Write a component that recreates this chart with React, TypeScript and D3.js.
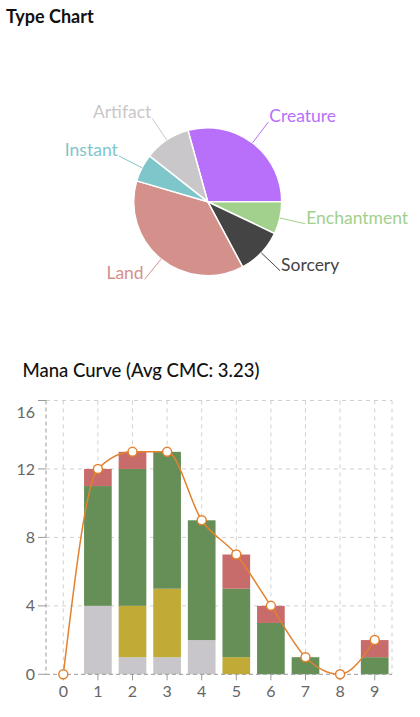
import React from "react";
import * as d3 from "d3";

const typeNames = ["Creature", "Enchantment", "Sorcery", "Land", "Instant", "Artifact"];
const typeCounts = [29, 7, 10, 37, 6, 10];
const typeColors = ["#b86ff9", "#a2d08d", "#444444", "#d4918b", "#7fc6cb", "#c9c7c9"];

const cmcLabels = ["0", "1", "2", "3", "4", "5", "6", "7", "8", "9"];
const colorlessCounts = [0, 4, 1, 1, 2, 0, 0, 0, 0, 0];
const whiteCounts = [0, 0, 3, 4, 0, 1, 0, 0, 0, 0];
const greenCounts = [0, 7, 8, 8, 7, 4, 3, 1, 0, 1];
const redCounts = [0, 1, 1, 0, 0, 2, 1, 0, 0, 1];
const seriesKeys = ["colorless", "white", "green", "red"];
const seriesColors = ["#c8c6ca", "#c1ab36", "#668f58", "#c86b6b"];
const yTicks = [0, 4, 8, 12, 16];

const FONT = "Lato, 'Open Sans', sans-serif";

export default function App() {
  // Pie
  const cx = 207.7, cy = 201.7, r = 74, labelR = 100;
  const total = d3.sum(typeCounts);
  const start = Math.PI / 2 - (2 * Math.PI * typeCounts[0]) / total;
  const pie = d3.pie<number>().sort(null).value((d) => d).startAngle(start).endAngle(start + 2 * Math.PI);
  const arcs = pie(typeCounts);
  const arcGen = d3.arc<d3.PieArcDatum<number>>().innerRadius(0).outerRadius(r);

  // Bars
  const x = d3.scaleBand<string>().domain(cmcLabels).range([46, 392]).paddingInner(0.2).paddingOuter(0.1);
  const y = d3.scaleLinear().domain([0, 16]).range([674.3, 400.5]);
  const rows = cmcLabels.map((c, i) => ({
    cmc: c,
    colorless: colorlessCounts[i],
    white: whiteCounts[i],
    green: greenCounts[i],
    red: redCounts[i],
  }));
  const stack = d3.stack<any>().keys(seriesKeys)(rows);
  const totals = rows.map((d) => d.colorless + d.white + d.green + d.red);
  const cxOf = (c: string) => (x(c) as number) + x.bandwidth() / 2;
  const line = d3
    .line<number>()
    .x((_, i) => cxOf(cmcLabels[i]))
    .y((d) => y(d))
    .curve(d3.curveMonotoneX);

  const gridColor = "#d0d0d0";
  const axisColor = "#999";
  const x0 = 46, x1 = 392;

  return (
    <div style={{ position: "absolute", left: 0, top: 0 }}>
      <svg width={420} height={717} style={{ display: "block" }} fontFamily={FONT}>
        <text x={6} y={22.5} fontSize={18} fontWeight={700} fill="#111">
          Type Chart
        </text>
        <g transform={`translate(${cx},${cy})`}>
          {arcs.map((a, i) => (
            <path key={i} d={arcGen(a) as string} fill={typeColors[i]} stroke="#fff" strokeWidth={1.5} />
          ))}
          {arcs.map((a, i) => {
            const mid = (a.startAngle + a.endAngle) / 2;
            const sx = Math.sin(mid) * r, sy = -Math.cos(mid) * r;
            const ex = Math.sin(mid) * labelR, ey = -Math.cos(mid) * labelR;
            const right = Math.sin(mid) >= 0;
            return (
              <g key={"l" + i}>
                <line x1={sx} y1={sy} x2={ex} y2={ey} stroke={typeColors[i]} strokeWidth={1} />
                <text x={ex + (right ? 1 : -1)} y={ey} textAnchor={right ? "start" : "end"} fontSize={17.5} fill={typeColors[i]}>
                  {typeNames[i]}
                </text>
              </g>
            );
          })}
        </g>

        <text x={22.5} y={377.3} fontSize={18.5} fontWeight={500} fill="#111">
          Mana Curve (Avg CMC: 3.23)
        </text>

        {/* grid */}
        {yTicks.filter((t) => t > 0).map((t) => (
          <line key={"gy" + t} x1={x0} x2={x1} y1={y(t)} y2={y(t)} stroke={gridColor} strokeDasharray="4 4" />
        ))}
        {cmcLabels.map((c) => (
          <line key={"gx" + c} x1={cxOf(c)} x2={cxOf(c)} y1={y(16)} y2={y(0)} stroke={gridColor} strokeDasharray="4 4" />
        ))}
        <line x1={x1} x2={x1} y1={y(16)} y2={y(0)} stroke={gridColor} strokeDasharray="4 4" />

        {/* bars */}
        {stack.map((s, si) =>
          s.map((d, i) =>
            d[1] > d[0] ? (
              <rect
                key={si + "-" + i}
                x={x(cmcLabels[i])}
                width={x.bandwidth()}
                y={y(d[1])}
                height={y(d[0]) - y(d[1])}
                fill={seriesColors[si]}
              />
            ) : null
          )
        )}

        {/* axes */}
        <line x1={x0} x2={x0} y1={y(16)} y2={y(0)} stroke={axisColor} strokeDasharray="4 3" />
        <line x1={x0} x2={x1} y1={y(0)} y2={y(0)} stroke={axisColor} strokeDasharray="4 3" />
        {yTicks.map((t) => (
          <g key={"yt" + t}>
            <line x1={x0 - 8} x2={x0} y1={y(t)} y2={y(t)} stroke={axisColor} />
            <text x={35} y={y(t) + (t === 16 ? 12 : 0)} dy="0.35em" textAnchor="end" fontSize={16} fill="#666">
              {t}
            </text>
          </g>
        ))}
        {cmcLabels.map((c) => (
          <g key={"xt" + c}>
            <line x1={cxOf(c)} x2={cxOf(c)} y1={y(0)} y2={y(0) + 6} stroke={axisColor} />
            <text x={cxOf(c)} y={691.7} dy="0.35em" textAnchor="middle" fontSize={16} fill="#666">
              {c}
            </text>
          </g>
        ))}

        {/* line */}
        <path d={line(totals) as string} fill="none" stroke="#e3812f" strokeWidth={1.5} />
        {totals.map((t, i) => (
          <circle key={"p" + i} cx={cxOf(cmcLabels[i])} cy={y(t)} r={4.5} fill="#fff" stroke="#e3812f" strokeWidth={1.5} />
        ))}
      </svg>
    </div>
  );
}
